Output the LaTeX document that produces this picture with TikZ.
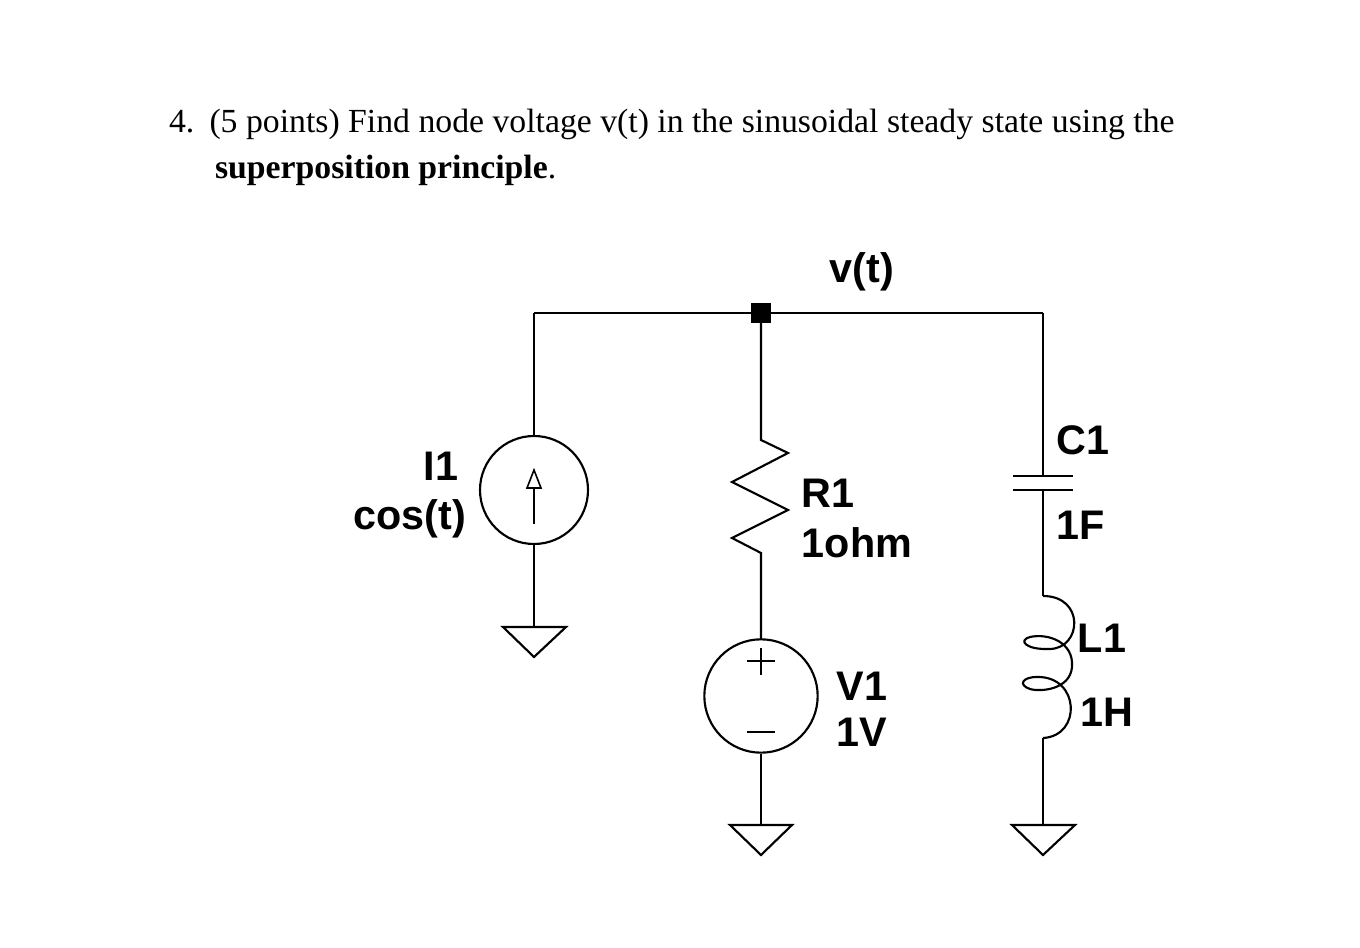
\documentclass[tikz,border=0pt]{standalone}
\usepackage{fontspec}
\setmainfont{Liberation Serif}
\newfontfamily\lab{Liberation Sans}
\begin{document}
\begin{tikzpicture}[x=0.75pt,y=-0.75pt,line width=1.6pt,
  lbl/.style={font=\lab\bfseries\fontsize{31}{36}\selectfont,inner sep=0pt},
  ttl/.style={font=\fontsize{25.3}{30}\selectfont,inner sep=0pt,anchor=base west}]
\useasboundingbox (0,0) rectangle (1360,948);
\node[ttl] (t1) at (168,133) {4.\hspace{0.45em}(5 points) Find node voltage v(t) in the sinusoidal steady state using the};
\node[ttl] (t2) at (214,179) {\textbf{superposition principle}.};
% top wire
\coordinate (L) at (534,313); \coordinate (M) at (761,313); \coordinate (R) at (1043,313);
\draw (L) -- (R);
\node[fill=black,minimum size=15pt,inner sep=0pt] (sq) at (M) {};
\node[lbl] (vt) at (862,272) {v(t)};
% left: current source
\node[circle,draw,minimum size=81pt,inner sep=0pt] (I1) at (534,490) {};
\draw (L) -- (I1.north);
\coordinate (g1) at (534,627);
\draw (I1.south) -- (g1);
\draw (503,627) -- (566,627) -- (534,657) -- cycle;
\draw[line width=1.2pt] (534,524) -- (534,488);
\draw[line width=1.2pt] (527,488) -- (541,488) -- (534,470) -- cycle;
\node[lbl] (i1l) at (441,466) {I1};
\node[lbl] (i1v) at (410,519) {cos(t)};
% middle: resistor + voltage source
\draw (M) -- (761,440) -- (788,453) -- (732,482) -- (788,510) -- (732,538) -- (761,553) -- (761,639);
\node[circle,draw,minimum size=85pt,inner sep=0pt] (V1) at (761,696) {};
\draw (V1.south) -- (761,825);
\draw (730,825) -- (792,825) -- (761,855) -- cycle;
\draw[line width=1.3pt] (761,648) -- (761,675) (747,661) -- (775,661);
\draw[line width=1.3pt] (747,732) -- (775,732);
\node[lbl] (r1) at (828,493) {R1};
\node[lbl] (r1v) at (857,543) {1ohm};
\node[lbl] (v1) at (862,686) {V1};
\node[lbl] (v1v) at (862,732) {1V};
% right: capacitor + inductor
\draw (R) -- (1043,476);
\draw (1013,476) -- (1073,476) (1013,490) -- (1073,490);
\draw (1043,490) -- (1043,596);
\draw (1043,596) .. controls (1085,596) and (1082,648) .. (1050,649)
      .. controls (1025,650) and (1018,640) .. (1030,637)
      .. controls (1048,633) and (1074,642) .. (1072,667)
      .. controls (1070,690) and (1040,692) .. (1030,689)
      .. controls (1018,685) and (1022,677) .. (1037,677)
      .. controls (1080,676) and (1082,736) .. (1043,738);
\draw (1043,738) -- (1043,825);
\draw (1012,825) -- (1075,825) -- (1043,855) -- cycle;
\node[lbl] (c1) at (1083,440) {C1};
\node[lbl] (c1v) at (1081,525) {1F};
\node[lbl] (l1) at (1102,638) {L1};
\node[lbl] (l1v) at (1107,712) {1H};
\end{tikzpicture}
\end{document}
